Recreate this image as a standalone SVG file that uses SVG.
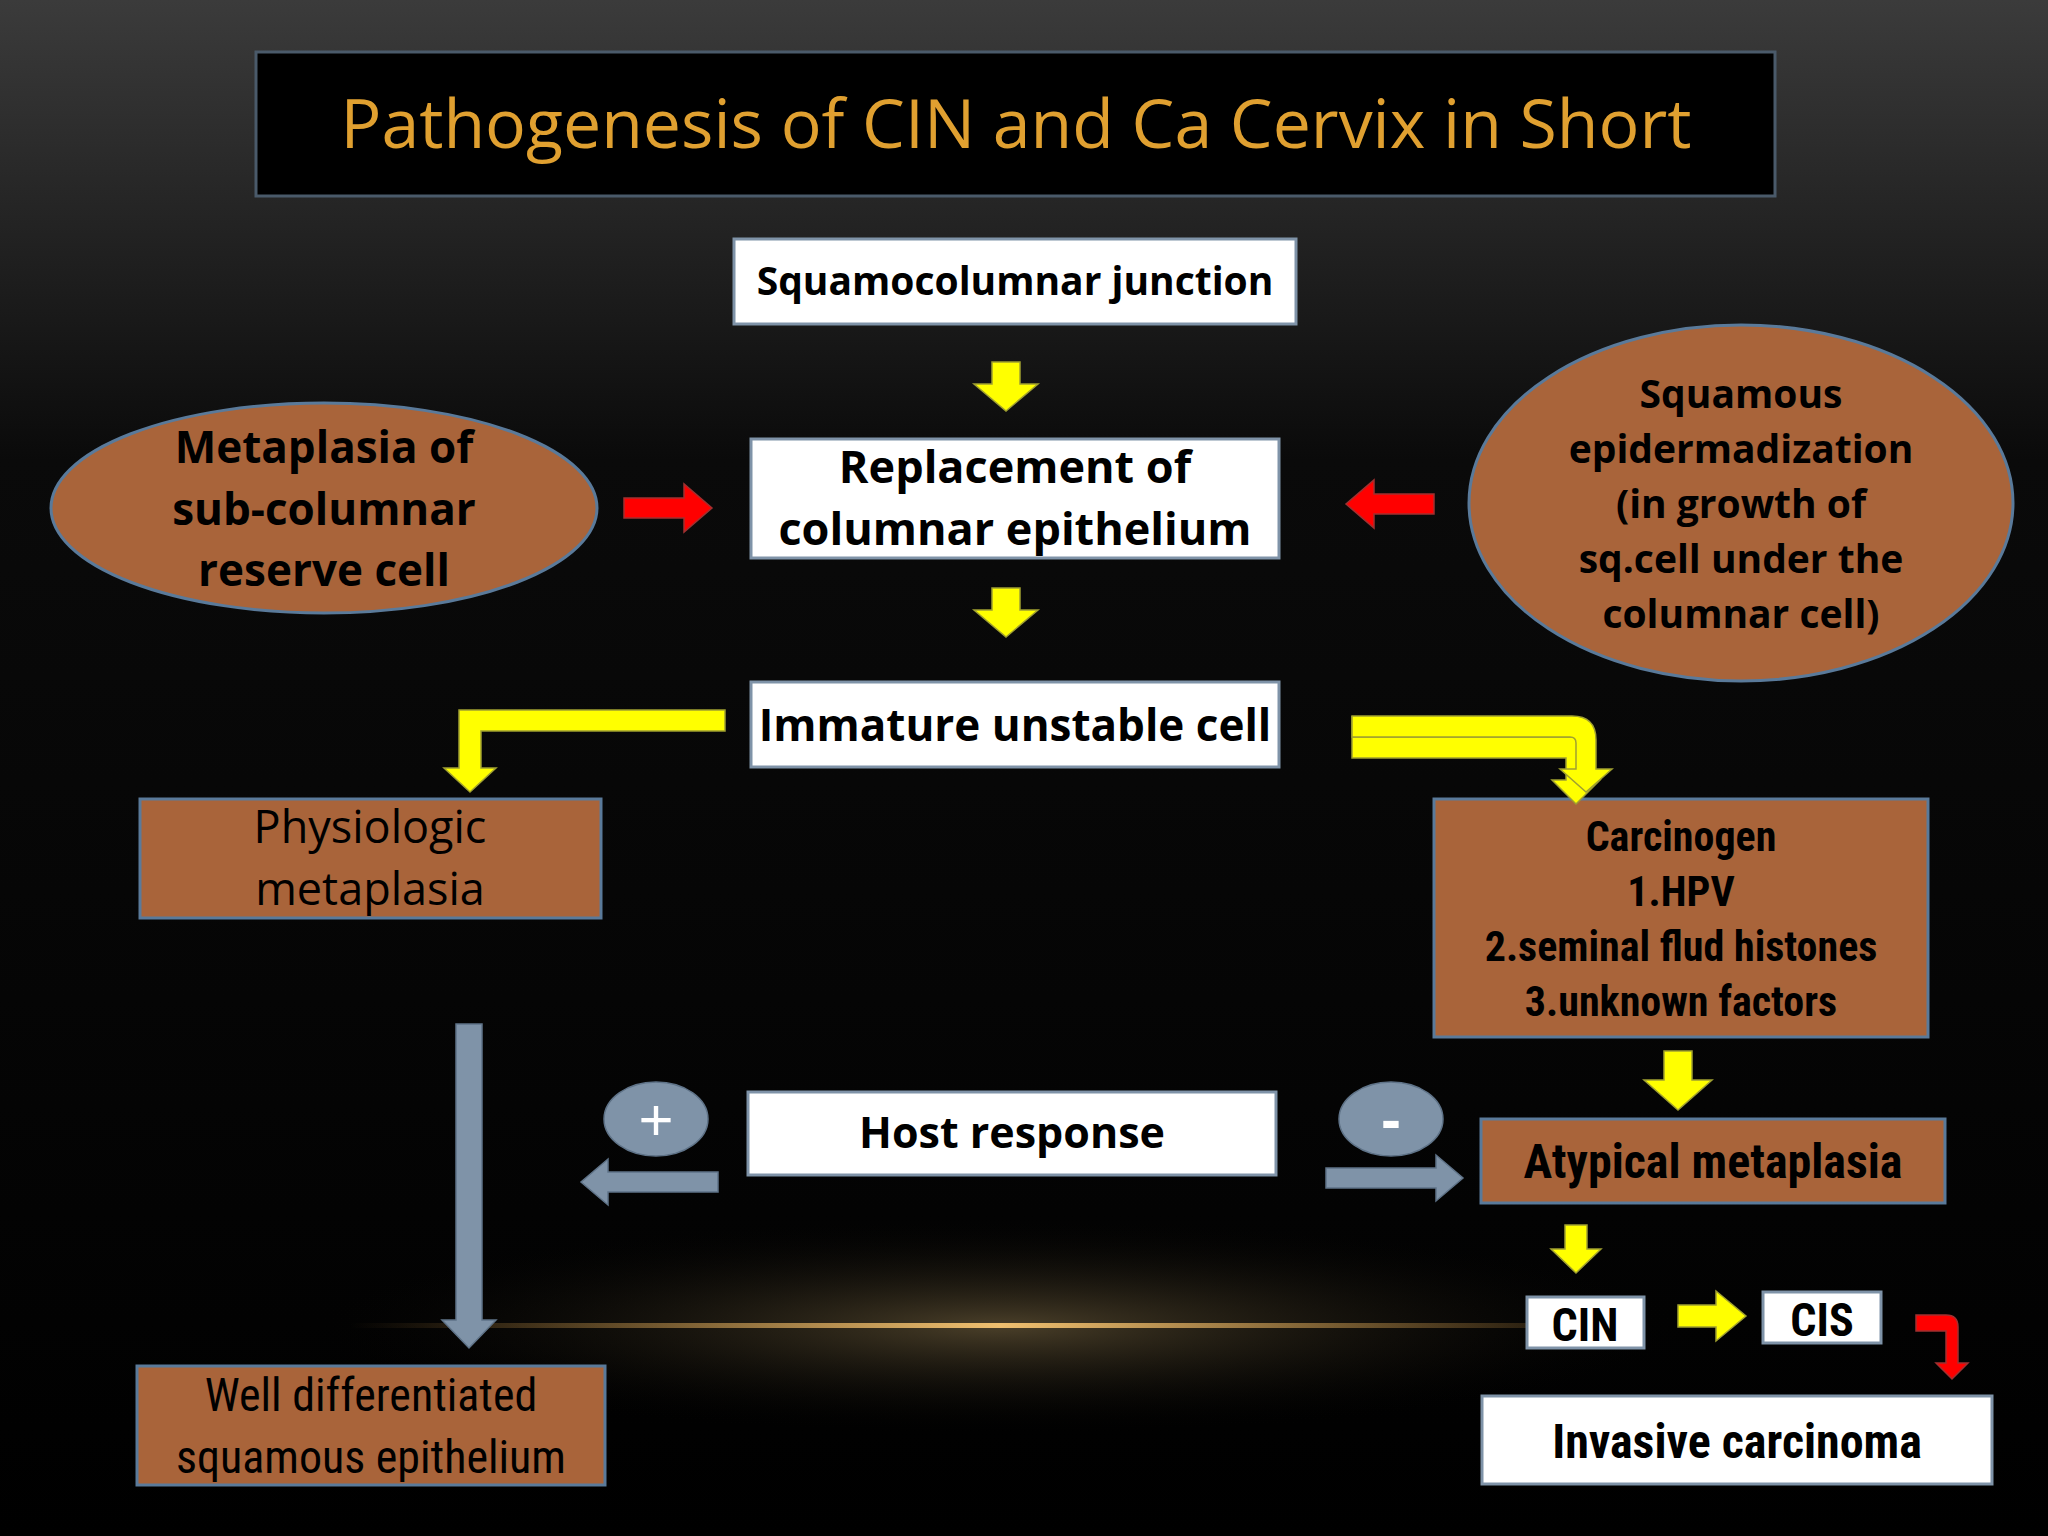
<svg xmlns="http://www.w3.org/2000/svg" width="2048" height="1536" viewBox="0 0 2048 1536">
<defs>
<linearGradient id="bg" x1="0" y1="0" x2="0" y2="1">
<stop offset="0" stop-color="#3b3b3b"/><stop offset="0.3" stop-color="#0a0a0a"/><stop offset="1" stop-color="#000"/>
</linearGradient>
<radialGradient id="glow" cx="0.5" cy="0.5" r="0.5">
<stop offset="0" stop-color="#6a5a3a" stop-opacity="0.7"/><stop offset="1" stop-color="#000" stop-opacity="0"/>
</radialGradient>
<linearGradient id="line" x1="0" x2="1"><stop offset="0" stop-color="#c89040" stop-opacity="0"/><stop offset="0.5" stop-color="#f0c070"/><stop offset="1" stop-color="#c89040" stop-opacity="0"/></linearGradient>
<style>
.w{fill:#fff;stroke:#7f93a8;stroke-width:3}
.b{fill:#a9643a;stroke:#5a7a9a;stroke-width:3}
.t{font-family:"Open Sans","Noto Sans",sans-serif;font-weight:bold;fill:#000;text-anchor:middle}
.n{font-family:"Liberation Sans Narrow","Roboto Condensed","Liberation Sans",sans-serif;font-weight:bold;fill:#000;text-anchor:middle}
.y{fill:#ffff00;stroke:#a0a030;stroke-width:1.5}
.r{fill:#ff0000;stroke:#a03030;stroke-width:1.5}
.g{fill:#7f93a8;stroke:#5f7388;stroke-width:1.5}
</style>
</defs>
<rect width="2048" height="1536" fill="url(#bg)"/>
<ellipse cx="1000" cy="1326" rx="700" ry="110" fill="url(#glow)"/>
<rect x="350" y="1323" width="1300" height="5" fill="url(#line)"/>
<g id="title"><rect x="256" y="52" width="1519" height="144" fill="#000" stroke="#4a5a6a" stroke-width="3"/>
<text x="1016" y="148" font-family="Open Sans,sans-serif" font-size="68" fill="#e0a030" text-anchor="middle">Pathogenesis of CIN and Ca Cervix in Short</text></g>
<g id="scj"><rect class="w" x="734" y="239" width="562" height="85"/><text class="t" x="1015" y="295" font-size="39">Squamocolumnar junction</text></g>
<g id="repl"><rect class="w" x="751" y="439" width="528" height="119"/><text class="t" x="1015" y="483" font-size="45">Replacement of</text><text class="t" x="1015" y="545" font-size="45">columnar epithelium</text></g>
<g id="imm"><rect class="w" x="751" y="682" width="528" height="85"/><text class="t" x="1015" y="741" font-size="44">Immature unstable cell</text></g>
<g id="meta"><ellipse class="b" cx="324" cy="508" rx="273" ry="105"/><text class="t" x="324" y="463" font-size="44">Metaplasia of</text><text class="t" x="324" y="525" font-size="44">sub-columnar</text><text class="t" x="324" y="586" font-size="44">reserve cell</text></g>
<g id="sqep"><ellipse class="b" cx="1741" cy="503" rx="272" ry="178"/>
<text class="t" x="1741" y="408" font-size="39">Squamous</text><text class="t" x="1741" y="463" font-size="39">epidermadization</text><text class="t" x="1741" y="518" font-size="39">(in growth of</text><text class="t" x="1741" y="573" font-size="39">sq.cell under the</text><text class="t" x="1741" y="628" font-size="39">columnar cell)</text></g>
<g id="phys"><rect class="b" x="140" y="799" width="461" height="119"/><text class="t" x="370" y="843" font-size="45" font-weight="normal" style="font-weight:normal">Physiologic</text><text class="t" x="370" y="905" font-size="45" style="font-weight:normal">metaplasia</text></g>
<g id="carc"><rect class="b" x="1434" y="799" width="494" height="238"/>
<text class="n" x="1681" y="851" font-size="42">Carcinogen</text><text class="n" x="1681" y="906" font-size="42">1.HPV</text><text class="n" x="1681" y="961" font-size="42">2.seminal flud histones</text><text class="n" x="1681" y="1016" font-size="42">3.unknown factors</text></g>
<g id="atyp"><rect class="b" x="1481" y="1119" width="464" height="84"/><text class="n" x="1713" y="1178" font-size="48">Atypical metaplasia</text></g>
<g id="host"><rect class="w" x="748" y="1092" width="528" height="83"/><text class="t" x="1012" y="1148" font-size="43">Host response</text></g>
<g id="plus"><ellipse class="g" cx="656" cy="1119" rx="52" ry="37"/><text x="656" y="1140" font-family="Liberation Sans,sans-serif" font-size="60" fill="#fff" text-anchor="middle">+</text></g>
<g id="minus"><ellipse class="g" cx="1391" cy="1119" rx="52" ry="37"/><text x="1391" y="1140" font-family="Liberation Sans,sans-serif" font-size="60" font-weight="bold" fill="#fff" text-anchor="middle">-</text></g>
<g id="well"><rect class="b" x="137" y="1366" width="468" height="119"/><text class="n" x="371" y="1411" font-size="46" style="font-weight:normal">Well differentiated</text><text class="n" x="371" y="1473" font-size="46" style="font-weight:normal">squamous epithelium</text></g>
<g id="cin"><rect class="w" x="1527" y="1297" width="117" height="51"/><text class="n" x="1585" y="1341" font-size="46">CIN</text></g>
<g id="cis"><rect class="w" x="1763" y="1292" width="118" height="51"/><text class="n" x="1822" y="1336" font-size="46">CIS</text></g>
<g id="inv"><rect class="w" x="1482" y="1396" width="510" height="88"/><text class="n" x="1737" y="1458" font-size="48">Invasive carcinoma</text></g>
<g id="connectors">
<path class="y" d="M992 362h28v22h18l-32 27-32-27h18z"/>
<path class="y" d="M992 588h28v22h18l-32 27-32-27h18z"/>
<path class="r" d="M624 498h60v-14l28 24-28 24v-14h-60z"/>
<path class="r" d="M1434 494h-60v-14l-28 24 28 24v-14h60z"/>
<path class="y" d="M725 710v21h-244v37h15l-26 24-26-24h15v-58z"/>
<path class="y" d="M1352 716v21h220q14 0 14 14v29h14l-24 24-24-24h14v-22q0-0-0 0h-214z" />
<path class="y" d="M1352 716h220q24 0 24 24v29h16l-26 23-26-23h16v-26q0-6-6-6h-218z"/>
<path class="y" d="M1664 1051h28v29h20l-34 30-34-30h20z"/>
<path class="y" d="M1565 1225h22v24h14l-25 24-25-24h14z"/>
<path class="y" d="M1678 1305h38v-14l30 25-30 25v-14h-38z"/>
<path class="r" d="M1916 1315h30q12 0 12 12v36h10l-16 16-16-16h10v-32h-30z"/>
<path class="g" d="M718 1172h-110v-13l-27 23 27 23v-13h110z"/>
<path class="g" d="M1326 1168h110v-13l27 23-27 23v-13h-110z"/>
<path class="g" d="M456 1024h26v296h14l-27 28-27-28h14z"/>
</g>
</svg>
